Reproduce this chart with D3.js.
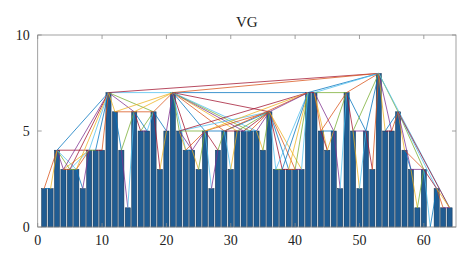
<!DOCTYPE html>
<html>
<head>
<meta charset="utf-8">
<script src="https://cdn.jsdelivr.net/npm/d3@7"></script>
<style>
  body { margin: 0; background: #fff; }
  text { font-family: "Liberation Serif", "DejaVu Serif", serif; fill: #222; }
</style>
</head>
<body>
<div id="chart"></div>
<script>
// series values, one bar per time step (x = 1..64)
var values = [2,2,4,3,3,3,2,4,4,4, 7,6,4,1,6,5,5,6,3,5,
              7,5,4,4,3,5,2,4,5,3, 5,5,5,5,4,6,3,3,3,3,
              3,7,7,5,4,5,2,7,5,2, 5,3,8,5,5,6,4,3,1,3,
              0,2,1,1];
var xTicks = [0,10,20,30,40,50,60];
var yTicks = [0,5,10];
var title = "VG";
var lineColors = ["#0072BD","#D95319","#EDB120","#7E2F8E","#77AC30","#4DBEEE","#A2142F"];

var margin = {top: 35, right: 18, bottom: 36, left: 37.7},
    width = 474 - margin.left - margin.right,
    height = 263 - margin.top - margin.bottom;

var svg = d3.select("#chart").append("svg")
    .attr("width", 474)
    .attr("height", 263)
  .append("g")
    .attr("transform", "translate(" + margin.left + "," + margin.top + ")");

var x = d3.scaleLinear().domain([0, 65]).range([0, width]);
var y = d3.scaleLinear().domain([0, 10]).range([height, 0]);

var pts = values.map(function(v, i) { return {x: i + 1, y: v}; });

// bars
var bw = x(0.8) - x(0);
svg.append("g")
  .selectAll("rect")
  .data(pts)
  .enter()
  .append("rect")
    .attr("x", function(d) { return x(d.x) - bw / 2; })
    .attr("y", function(d) { return y(d.y); })
    .attr("width", bw)
    .attr("height", function(d) { return y(0) - y(d.y); })
    .attr("fill", "#205c92")
    .attr("stroke", "#12304d")
    .attr("stroke-width", 0.5);

// natural visibility graph edges
var edges = [];
for (var a = 0; a < pts.length; a++) {
  for (var b = a + 1; b < pts.length; b++) {
    var ok = true;
    for (var c = a + 1; c < b; c++) {
      var lim = pts[b].y + (pts[a].y - pts[b].y) * (pts[b].x - pts[c].x) / (pts[b].x - pts[a].x);
      if (pts[c].y >= lim) { ok = false; break; }
    }
    if (ok) edges.push([pts[a], pts[b]]);
  }
}

svg.append("g")
  .selectAll("line")
  .data(edges)
  .enter()
  .append("line")
    .attr("x1", function(d) { return x(d[0].x); })
    .attr("y1", function(d) { return y(d[0].y); })
    .attr("x2", function(d) { return x(d[1].x); })
    .attr("y2", function(d) { return y(d[1].y); })
    .attr("stroke", function(d, i) { return lineColors[i % lineColors.length]; })
    .attr("stroke-width", 0.9)
    .attr("stroke-opacity", 0.85);

// axes box with inward ticks
var axisColor = "#8a8a8a";
svg.append("rect")
    .attr("width", width).attr("height", height)
    .attr("fill", "none").attr("stroke", axisColor).attr("stroke-width", 0.8);

var tl = 4;
svg.append("g").selectAll("line").data(xTicks).enter().append("line")
    .attr("x1", function(d) { return x(d); }).attr("x2", function(d) { return x(d); })
    .attr("y1", height).attr("y2", height - tl)
    .attr("stroke", axisColor).attr("stroke-width", 0.8);
svg.append("g").selectAll("line").data(xTicks).enter().append("line")
    .attr("x1", function(d) { return x(d); }).attr("x2", function(d) { return x(d); })
    .attr("y1", 0).attr("y2", tl)
    .attr("stroke", axisColor).attr("stroke-width", 0.8);
svg.append("g").selectAll("line").data(yTicks).enter().append("line")
    .attr("x1", 0).attr("x2", tl)
    .attr("y1", function(d) { return y(d); }).attr("y2", function(d) { return y(d); })
    .attr("stroke", axisColor).attr("stroke-width", 0.8);
svg.append("g").selectAll("line").data(yTicks).enter().append("line")
    .attr("x1", width).attr("x2", width - tl)
    .attr("y1", function(d) { return y(d); }).attr("y2", function(d) { return y(d); })
    .attr("stroke", axisColor).attr("stroke-width", 0.8);

svg.append("g").selectAll("text").data(xTicks).enter().append("text")
    .attr("x", function(d) { return x(d); })
    .attr("y", height + 18)
    .attr("text-anchor", "middle")
    .style("font-size", "14px")
    .text(function(d) { return d; });
svg.append("g").selectAll("text").data(yTicks).enter().append("text")
    .attr("x", -8)
    .attr("y", function(d) { return y(d) + 5; })
    .attr("text-anchor", "end")
    .style("font-size", "14px")
    .text(function(d) { return d; });

svg.append("text")
    .attr("x", width / 2)
    .attr("y", -8)
    .attr("text-anchor", "middle")
    .style("font-size", "15px")
    .text(title);
</script>
</body>
</html>
